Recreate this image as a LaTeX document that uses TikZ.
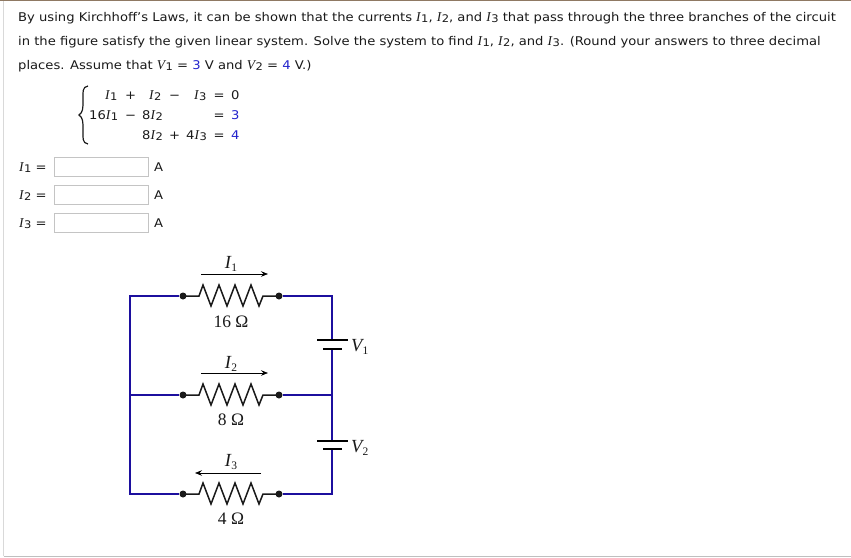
\documentclass[tikz,border=0pt]{standalone}
\usepackage{fontspec}
\setmainfont{DejaVu Sans}[FakeStretch=1.094]
\newfontfamily\tms{Liberation Serif}
\usetikzlibrary{arrows.meta}
\definecolor{wireblue}{HTML}{1C0F9E}
\definecolor{numblue}{HTML}{2222CC}
\definecolor{inkc}{HTML}{1A1A1A}
\definecolor{boxc}{HTML}{C4C4C4}
\newcommand{\Iv}[1]{{\tms\itshape\fontsize{13.5}{14}\selectfont I}\kern.5pt\raisebox{-.3ex}{\fontsize{10.5}{12}\selectfont #1}}
\newcommand{\Vv}[1]{{\tms\itshape\fontsize{13.5}{14}\selectfont V}\kern.5pt\raisebox{-.3ex}{\fontsize{10.5}{12}\selectfont #1}}
\newcommand{\CI}[1]{{\tms\itshape\fontsize{18.5}{20}\selectfont I}\kern.2pt\raisebox{-.45ex}{\tms\fontsize{11.5}{12}\selectfont #1}}
\newcommand{\CV}[1]{{\tms\itshape\fontsize{18.5}{20}\selectfont V}\kern.2pt\raisebox{-.45ex}{\tms\fontsize{11.5}{12}\selectfont #1}}
\newcommand{\Bn}[1]{\textcolor{numblue}{#1}}
\tikzset{
  x=1pt,y=-1pt,
  para/.style={anchor=base west,inner sep=0,text=inkc,font=\fontsize{12}{14}\selectfont},
  eqn/.style={anchor=base west,inner sep=0,text=inkc,font=\fontsize{12}{14}\selectfont},
  ansbox/.style={draw=boxc,line width=.8pt,fill=white,minimum width=94pt,minimum height=19pt,inner sep=0,anchor=north west},
  wire/.style={draw=wireblue,line width=1.6pt},
  res/.style={draw=inkc,line width=1.5pt,line join=miter},
  plate/.style={draw=black,line width=1.6pt},
  term/.style={circle,fill=inkc,inner sep=0,minimum size=7pt},
  curr/.style={draw=black,line width=.7pt,-{Stealth[length=7pt,width=5.5pt,inset=2.5pt]}},
  clab/.style={inner sep=0,text=inkc,font=\tms\fontsize{17.5}{19}\selectfont},
}
\begin{document}
\begin{tikzpicture}
\useasboundingbox (0,0) rectangle (851,557);
\fill[white] (0,0) rectangle (851,557);
% page edges
\draw[draw=black!50!brown!70,line width=1.2pt] (0,.6) -- (851,.6);
\draw[draw=black!15,line width=.8pt] (3.5,1) -- (3.5,556);
\draw[draw=black!25,line width=.8pt] (3.5,556) -- (851,556);
% statement
\node[para] (l1) at (18,21) {By using Kirchhoff's Laws, it can be shown that the currents \Iv1, \Iv2, and \Iv3 that pass through the three branches of the circuit};
\node[para] (l2) at (18,45) {in the figure satisfy the given linear system. Solve the system to find \Iv1, \Iv2, and \Iv3. (Round your answers to three decimal};
\node[para] (l3) at (18,69) {places. Assume that \Vv1 = \Bn{3} V and \Vv2 = \Bn{4} V.)};
% brace
\draw[draw=inkc,line width=1.2pt,fill=none] (88,86) .. controls (82,87) and (83,92) .. (83,100) .. controls (83,109) and (83,112) .. (79,115) .. controls (83,118) and (83,121) .. (83,130) .. controls (83,138) and (82,143) .. (88,144);
% system
\node[eqn] (a1) at (105,99) {\Iv1};
\node[eqn] (a2) at (125,99) {+};
\node[eqn] (a3) at (149,99) {\Iv2};
\node[eqn] (a4) at (169,99) {−};
\node[eqn] (a5) at (194,99) {\Iv3};
\node[eqn] (a6) at (213.5,99) {=};
\node[eqn] (a7) at (231,99) {0};
\node[eqn] (b1) at (89,119) {16\Iv1};
\node[eqn] (b2) at (125,119) {−};
\node[eqn] (b3) at (142,119) {8\Iv2};
\node[eqn] (b6) at (213.5,119) {=};
\node[eqn] (b7) at (231,119) {\Bn{3}};
\node[eqn] (c3) at (142,139) {8\Iv2};
\node[eqn] (c4) at (169,139) {+};
\node[eqn] (c5) at (186,139) {4\Iv3};
\node[eqn] (c6) at (213.5,139) {=};
\node[eqn] (c7) at (231,139) {\Bn{4}};
% answers
\foreach \n/\y/\s in {1/157/1,2/185/2,3/213/3}{
  \node[ansbox] (box\n) at (53.5,\y) {};
  \node[eqn] (lab\n) at (19,\y+14) {\Iv{\s} =};
  \node[eqn] (unit\n) at (154,\y+14) {A};
}
% circuit junctions
\coordinate (tl) at (130,296);
\coordinate (ml) at (130,395);
\coordinate (bl) at (130,494);
\coordinate (tr) at (332,296);
\coordinate (mr) at (332,395);
\coordinate (br) at (332,494);
\foreach \n/\y in {1/296,2/395,3/494}{
  \node[term] (rl\n) at (183,\y) {};
  \node[term] (rr\n) at (279,\y) {};
  \draw[res] (rl\n.center) -- (199,\y) -- (203,\y-11) -- (211,\y+10) -- (219,\y-11) -- (227,\y+10) -- (235,\y-11) -- (243,\y+10) -- (251,\y-11) -- (259,\y+10) -- (263,\y) -- (rr\n.center);
}
% batteries
\coordinate (p1a) at (332,340);
\coordinate (p1b) at (332,349);
\coordinate (p2a) at (332,441);
\coordinate (p2b) at (332,449);
% wires
\draw[wire,line join=miter] (rl1) -- (tl) -- (bl) -- (rl3);
\draw[wire] (ml) -- (rl2);
\draw[wire,line join=miter] (rr1) -- (tr) -- (p1a);
\draw[wire] (p1b) -- (p2a);
\draw[wire,line join=miter] (p2b) -- (br) -- (rr3);
\draw[wire] (rr2) -- (mr);
\draw[plate] (317,340) -- (348,340);
\draw[plate] (323,349) -- (342,349);
\draw[plate] (317,441) -- (348,441);
\draw[plate] (323,449) -- (342,449);
% current arrows
\coordinate (i1a) at (201,274); \coordinate (i1b) at (268,274);
\coordinate (i2a) at (201,373); \coordinate (i2b) at (268,373);
\coordinate (i3a) at (261,473); \coordinate (i3b) at (195,473);
\draw[curr] (i1a) -- (i1b);
\draw[curr] (i2a) -- (i2b);
\draw[curr] (i3a) -- (i3b);
% labels
\node[clab] (n1) at (231,264) {\CI1};
\node[clab] (n2) at (231,364) {\CI2};
\node[clab] (n3) at (231,462) {\CI3};
\node[clab] (o1) at (231,322) {16 Ω};
\node[clab] (o2) at (231,420) {8 Ω};
\node[clab] (o3) at (231,519) {4 Ω};
\node[clab,anchor=west] (v1) at (351,347) {\CV1};
\node[clab,anchor=west] (v2) at (351,448) {\CV2};
\end{tikzpicture}
\end{document}
